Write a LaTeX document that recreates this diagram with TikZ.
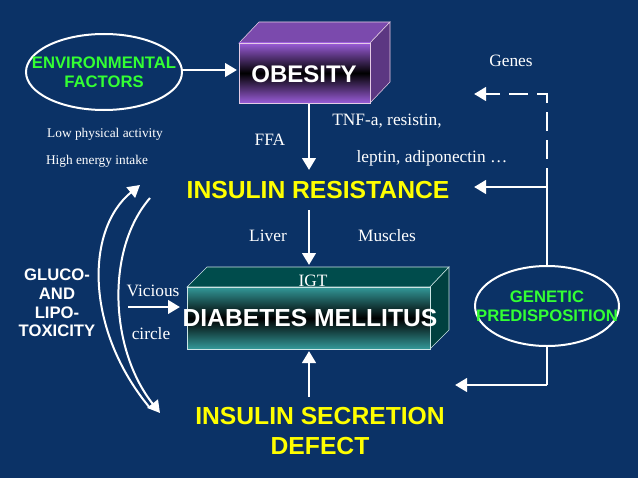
\documentclass[tikz,border=0pt]{standalone}
\usepackage{fontspec}
\setmainfont{Liberation Serif}
\newfontfamily\sans{Liberation Sans}
\usetikzlibrary{arrows.meta}
\definecolor{bg}{HTML}{0B3266}
\definecolor{ygreen}{HTML}{33FF33}
\definecolor{iryellow}{HTML}{FFFF00}
\definecolor{obpurple}{HTML}{9A5CD8}
\begin{document}
\begin{tikzpicture}[x=0.75pt,y=-0.75pt,
    every node/.style={text=white},
    arr/.style={white,line width=2.2pt,-{Triangle[length=9pt,width=10pt]}},
    lbl/.style={font=\fontsize{13}{15}\selectfont},
    small/.style={font=\fontsize{10}{12}\selectfont},
    big/.style={font=\sans\bfseries\fontsize{18.5}{22}\selectfont,text=iryellow,align=center},
    side/.style={font=\sans\bfseries\fontsize{12.5}{14}\selectfont,align=center}]
  % background
  \fill[bg] (0,0) rectangle (638,478);
  \useasboundingbox (0,0) rectangle (638,478);
  % obesity box
  \fill[obpurple!80!black,draw=white!80!violet] (239,43) -- (259,22) -- (390,22) -- (370,43) -- cycle;
  \fill[obpurple!60!black,draw=white!80!violet] (370,43) -- (390,22) -- (390,82) -- (370,103) -- cycle;
  \shade[top color=obpurple,bottom color=obpurple,middle color=black,draw=white!80!violet] (239,43) rectangle (370,103);
  \node[font=\sans\bfseries\fontsize{18}{20}\selectfont] (ob) at (304,74) {OBESITY};
  \coordinate (obL) at (237,70);
  % diabetes box
  \fill[teal!60!black,draw=white!80!teal] (187,287) -- (207,267) -- (449,267) -- (430,287) -- cycle;
  \fill[teal!50!black,draw=white!80!teal] (430,287) -- (449,267) -- (449,330) -- (430,349) -- cycle;
  \shade[top color=teal!80!white,bottom color=teal!80!white,middle color=black,draw=white!80!teal] (187,287) rectangle (430,349);
  \node[lbl] (igt) at (313,281) {IGT};
  \node[font=\sans\bfseries\fontsize{18.5}{20}\selectfont] (dm) at (310,318) {DIABETES MELLITUS};
  % ellipses
  \draw[white,line width=1.5pt] (104,72) ellipse [x radius=78,y radius=38];
  \node[side,text=ygreen] (env) at (104,72) {ENVIRONMENTAL\\FACTORS};
  \draw[white,line width=1.5pt] (547,306) ellipse [x radius=72,y radius=40];
  \node[side,text=ygreen] (gen) at (547,306) {GENETIC\\PREDISPOSITION};
  % texts
  \node[big] (ir) at (318,190) {INSULIN RESISTANCE};
  \node[big] (isd) at (320,431) {INSULIN SECRETION\\DEFECT};
  \node[side] (glt) at (57,303) {GLUCO-\\AND\\LIPO-\\TOXICITY};
  \node[lbl] (genes) at (511,61) {Genes};
  \node[small] (lpa) at (105,134) {Low physical activity};
  \node[small] (hei) at (97,161) {High energy intake};
  \node[lbl] (ffa) at (270,140) {FFA};
  \node[lbl] (tnf) at (387,121) {TNF-a, resistin,};
  \node[lbl] (lep) at (432,158) {leptin, adiponectin \dots};
  \node[lbl] (liv) at (268,236) {Liver};
  \node[lbl] (mus) at (387,236) {Muscles};
  \node[lbl] (vic) at (153,291) {Vicious};
  \node[lbl] (cir) at (151,334) {circle};
  % connectors
  \coordinate (envR) at (182,70);
  \draw[arr] (envR) -- (obL);
  \coordinate (obB) at (309,104);
  \coordinate (irT) at (309,170);
  \draw[arr] (obB) -- (irT);
  \coordinate (irB) at (309,210);
  \coordinate (dmT) at (309,265);
  \draw[arr] (irB) -- (dmT);
  \coordinate (isdT) at (309,397);
  \coordinate (dmB) at (309,351);
  \draw[arr] (isdT) -- (dmB);
  \coordinate (genT) at (547,266);
  \coordinate (genB) at (547,346);
  \coordinate (rb) at (547,385);
  \coordinate (rm) at (547,187);
  \coordinate (rt) at (547,94);
  \draw[white,line width=2.2pt] (genB) -- (rb);
  \draw[arr] (rb) -- (455,385);
  \draw[white,line width=2.2pt] (genT) -- (rm);
  \draw[arr] (rm) -- (474,187);
  \draw[white,line width=2.2pt,dash pattern=on 14pt off 7pt] (rm) -- (rt) -- (490,94);
  \draw[arr] (490,94) -- (474,94);
  \coordinate (vicL) at (128,307);
  \coordinate (vicR) at (180,307);
  \draw[arr] (vicL) -- (vicR);
  % vicious circle arcs
  \draw[arr,line width=1.5pt] (150,408) .. controls (85,330) and (85,230) .. (140,185);
  \draw[arr,line width=1.5pt] (150,198) .. controls (105,250) and (110,350) .. (160,413);
\end{tikzpicture}
\end{document}
